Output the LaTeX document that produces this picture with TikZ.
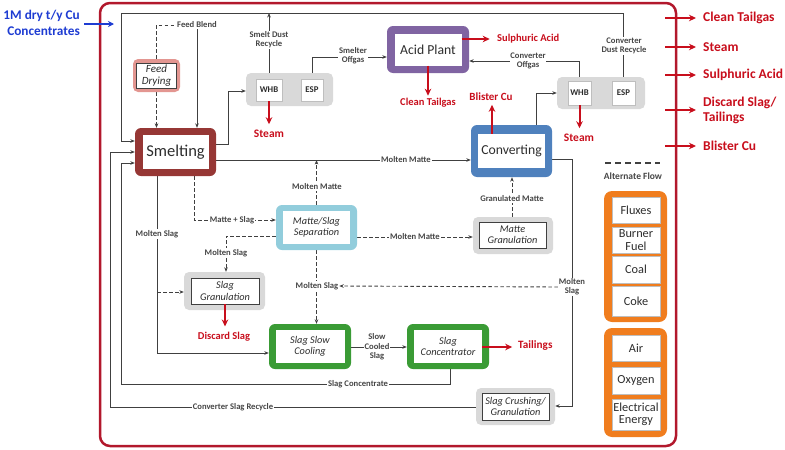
\documentclass[tikz,border=0pt]{standalone}
\usepackage{fontspec}
\setmainfont{Carlito}
\usetikzlibrary{arrows.meta,calc}
\pgfdeclarelayer{bg}
\pgfsetlayers{bg,main}
\definecolor{cFrame}{RGB}{178,24,44}
\definecolor{cRed}{RGB}{200,14,28}
\definecolor{cBlue}{RGB}{30,60,210}
\definecolor{cBrown}{RGB}{150,55,53}
\definecolor{cPurple}{RGB}{128,100,162}
\definecolor{cCBlue}{RGB}{79,129,189}
\definecolor{cLBlue}{RGB}{146,205,220}
\definecolor{cGreen}{RGB}{58,155,53}
\definecolor{cPink}{RGB}{227,150,145}
\definecolor{cOrange}{RGB}{240,125,30}
\definecolor{cGray}{RGB}{217,217,217}
\definecolor{cLine}{RGB}{64,64,64}
\definecolor{cText}{RGB}{45,45,45}
\definecolor{cLbl}{RGB}{70,70,70}
\definecolor{cBord}{RGB}{190,190,190}
\tikzset{
 fr/.style={rounded corners=6pt, inner sep=0pt, draw=none},
 inb/.style={fill=white, inner sep=0pt, align=center, text=cText},
 ttl/.style={font=\fontsize{13.7}{15}\selectfont},
 ital/.style={font=\fontsize{10.3}{11.3}\selectfont\itshape},
 gbox/.style={fill=cGray, rounded corners=5pt, inner sep=0pt},
 ibox/.style={fill=white, draw=cLine, line width=0.9pt, inner sep=0pt, align=center, text=cText},
 sq/.style={fill=white, draw=cBord, line width=0.5pt, inner sep=0pt, font=\fontsize{8.8}{9}\selectfont\bfseries, text=cText},
 lbl/.style={fill=white, inner sep=0.8pt, align=center, text=cLbl, font=\fontsize{8.6}{9.3}\selectfont\bfseries},
 conn/.style={draw=cLine, line width=0.75pt, -{Stealth[length=4.5pt,width=3.6pt]}},
 dconn/.style={conn, dash pattern=on 3.5pt off 2.5pt, line width=0.9pt},
 rarr/.style={draw=cRed, line width=2pt, -{Stealth[length=7pt,width=6.5pt]}},
 rlbl/.style={text=cRed, font=\fontsize{10.5}{12}\selectfont\bfseries, inner sep=0pt},
 olbl/.style={text=cRed, font=\fontsize{13.5}{15}\selectfont\bfseries, inner sep=0pt, anchor=west, align=left},
 leg/.style={fill=white, draw=cBord, line width=0.5pt, minimum width=48, inner sep=0pt, align=center, font=\fontsize{12.3}{12.5}\selectfont, text=cText},
}
\begin{document}
\begin{tikzpicture}[x=1pt,y=-1pt]
\useasboundingbox (0,0) rectangle (785,450);
\draw[cFrame, line width=2.5pt, rounded corners=10pt] (100,3) rectangle (676,446);

% input
\node[anchor=east, align=right, inner sep=0pt, text=cBlue, font=\fontsize{13.3}{16}\selectfont\bfseries] (inp) at (80,23) {1M dry t/y Cu\\Concentrates};
\coordinate (inend) at (114,24);
\draw[draw=cBlue, line width=1.6pt, -{Stealth[length=6pt,width=6pt]}] ($(inp.east)+(4,1)$) -- (inend);

% main process boxes
\node[fr, fill=cBrown, minimum width=81, minimum height=48] (sm) at (175.5,152) {};
\node[inb, minimum width=66, minimum height=34, font=\fontsize{16.5}{18}\selectfont] (sm-i) at (sm) {Smelting};
\node[fr, fill=cPurple, minimum width=82, minimum height=47] (ap) at (428,49.5) {};
\node[inb, ttl, minimum width=67, minimum height=32] (ap-i) at (ap) {Acid Plant};
\node[fr, fill=cCBlue, minimum width=81, minimum height=52] (cv) at (511.5,151) {};
\node[inb, ttl, minimum width=67, minimum height=34] (cv-i) at (cv) {Converting};
\node[fr, fill=cLBlue, minimum width=81, minimum height=45] (ms) at (316.5,227.5) {};
\node[inb, ital, minimum width=67, minimum height=33] (ms-i) at (ms) {Matte/Slag\\Separation};
\node[fr, fill=cGreen, minimum width=82, minimum height=45] (ssc) at (310,346.5) {};
\node[inb, ital, minimum width=69, minimum height=33] (ssc-i) at (ssc) {Slag Slow\\Cooling};
\node[fr, fill=cGreen, minimum width=82, minimum height=45] (scc) at (448,346.5) {};
\node[inb, ital, minimum width=68, minimum height=33] (scc-i) at (scc) {Slag\\Concentrator};
\node[fr, rounded corners=5pt, fill=cPink, minimum width=47, minimum height=33] (fd) at (156.5,75.5) {};
\node[ibox, font=\fontsize{11}{12}\selectfont\itshape, minimum width=40, minimum height=25] (fd-i) at (fd) {Feed\\Drying};

% gas cleaning
\node[gbox, minimum width=87, minimum height=33] (g1) at (289.5,89.5) {};
\node[sq, minimum width=26, minimum height=22] (whb1) at (269,90) {WHB};
\node[sq, minimum width=22, minimum height=22] (esp1) at (312,90) {ESP};
\node[gbox, minimum width=88, minimum height=32] (g2) at (601,93) {};
\node[sq, minimum width=23, minimum height=24] (whb2) at (579.5,93) {WHB};
\node[sq, minimum width=23, minimum height=24] (esp2) at (623.5,93) {ESP};

% grey process boxes
\node[gbox, minimum width=81, minimum height=38] (sg) at (224.5,291) {};
\node[ibox, ital, minimum width=68, minimum height=26] (sg-i) at (225,291) {Slag\\Granulation};
\node[gbox, minimum width=80, minimum height=37] (mg) at (513,235.5) {};
\node[ibox, ital, minimum width=67, minimum height=26] (mg-i) at (512.5,235) {Matte\\Granulation};
\node[gbox, minimum width=79, minimum height=37] (sc) at (515.5,406.5) {};
\node[ibox, ital, minimum width=67, minimum height=27] (sc-i) at (515.5,406.5) {Slag Crushing/\\Granulation};

% legend / inputs
\node[fr, rounded corners=8pt, fill=cOrange, minimum width=63, minimum height=131] (og1) at (635.5,256.5) {};
\node[leg, minimum height=26] (fl) at (636,210) {Fluxes};
\node[leg, minimum height=26] (bf) at (636,240) {Burner\\Fuel};
\node[leg, minimum height=27] (co) at (636,269.5) {Coal};
\node[leg, minimum height=30] (ck) at (636,301) {Coke};
\node[fr, rounded corners=8pt, fill=cOrange, minimum width=63, minimum height=109] (og2) at (635.5,382.5) {};
\node[leg, minimum height=26] (ai) at (636,348) {Air};
\node[leg, minimum height=27] (ox) at (636,380.5) {Oxygen};
\node[leg, minimum height=31] (ee) at (636,414.5) {Electrical\\Energy};
\coordinate (lg1) at (605,163);
\coordinate (lg2) at (660,163);
\draw[cLine, line width=1.6pt, dash pattern=on 6pt off 4pt] (lg1) -- (lg2);
\node[text=cLbl, font=\fontsize{9.5}{10}\selectfont\bfseries, inner sep=0pt] (altf) at (633,176) {Alternate Flow};

% labels
\node[lbl] (fb) at (197,25) {Feed Blend};
\node[lbl] (l-sdr) at (269,40) {Smelt Dust\\Recycle};
\node[lbl] (l-so) at (353,56) {Smelter\\Offgas};
\node[lbl] (l-co) at (528,61) {Converter\\Offgas};
\node[lbl] (l-cdr) at (624,46) {Converter\\Dust Recycle};
\node[lbl] (l-mm1) at (406,160) {Molten Matte};
\node[lbl] (l-mm2) at (317,187) {Molten Matte};
\node[lbl] (l-ms) at (232,220) {Matte + Slag};
\node[lbl] (l-msl1) at (226,253) {Molten Slag};
\node[lbl] (l-mm3) at (415,237) {Molten Matte};
\node[lbl] (l-gm) at (512,199) {Granulated Matte};
\node[lbl] (lms2) at (572,287) {Molten\\Slag};
\node[lbl] (lms3) at (317,286) {Molten Slag};
\node[lbl] (l-msl0) at (157,234) {Molten Slag};
\node[lbl] (l-scs) at (377,347) {Slow\\Cooled\\Slag};
\node[lbl] (l-sconc) at (358,384) {Slag Concentrate};
\node[lbl] (l-csr) at (233,407) {Converter Slag Recycle};

% connectors
\begin{pgfonlayer}{bg}
\draw[conn] (esp2.north |- g2.north) -- (esp2.north |- 0,13) -- (121,13) -- (121,141) -- (sm.west |- 0,141);
\draw[conn] (whb1.north |- g1.north) -- (whb1.north |- 0,13);
\draw[dconn,-] (fd.north) |- (fb.west);
\draw[conn] (fb.south) -- (fb.south |- sm.north);
\draw[dconn] (fd.south) -- (fd.south |- sm.north);
\draw[conn] (sm.east |- 0,144) -| (228,91) -- (g1.west |- 0,91);
\draw[conn] (esp1.north |- g1.north) |- (ap.west |- 0,57);
\draw[conn] (whb2.north |- g2.north) |- (ap.east |- 0,61);
\draw[conn] (cv.north -| 536,0) |- (g2.west |- 0,93);
\draw[conn] (sm.east |- 0,160) -- (cv.west |- 0,160);
\draw[dconn] (ms.north) -- (ms.north |- 0,160);
\draw[dconn] (sm.south -| 194,0) |- (ms.west |- 0,220);
\draw[dconn] (ms.west |- 0,236) -| (sg.north -| 226,0);
\draw[dconn] (ms.east |- 0,237) -- (mg.west |- 0,237);
\draw[dconn] (mg.north -| 512,0) -- (cv.south -| 512,0);
\draw[conn] (cv.east |- 0,159) -| (572,406) -- (sc.east |- 0,406);
\draw[dconn] (lms2.west) -- (lms3.east);
\draw[dconn] (ms.south) -- (ms.south |- ssc.north);
\draw[conn] (sm.south -| 157,0) |- (ssc.west |- 0,353);
\coordinate (br1) at (157,292);
\draw[dconn] (br1) -- (sg.west |- br1);
\draw[conn] (ssc.east |- 0,347) -- (scc.west |- 0,347);
\draw[conn] (scc.south -| 450,0) |- (121,384) |- (sm.west |- 0,163);
\draw[conn] (sc.west |- 0,407) -| (110,152) -- (sm.west |- 0,152);
\end{pgfonlayer}

% red product arrows
\draw[rarr] (whb1.south) -- ++(0,23);
\node[rlbl, font=\fontsize{11.5}{12}\selectfont\bfseries] (st1) at (269,134) {Steam};
\draw[rarr] (whb2.south) -- ++(0,23);
\node[rlbl, font=\fontsize{11.5}{12}\selectfont\bfseries] (st2) at (579,137.5) {Steam};
\draw[rarr] (ap-i.south) -- ++(0,30);
\node[rlbl] (ct) at (428,103) {Clean Tailgas};
\draw[rarr] (ap-i.east |- 0,39) -- ++(28,0);
\node[rlbl, anchor=west] (sa) at (497,39) {Sulphuric Acid};
\draw[rarr] (cv-i.north -| 492,0) -- ++(0,-29);
\node[rlbl, font=\fontsize{11}{12}\selectfont\bfseries] (bc) at (491,97) {Blister Cu};
\draw[rarr] (sg-i.south) -- ++(0,22);
\node[rlbl] (ds) at (224,337) {Discard Slag};
\draw[rarr] (scc-i.east |- 0,347) -- ++(30,0);
\node[rlbl, anchor=west, font=\fontsize{11.2}{12}\selectfont\bfseries] (tl) at (518,346) {Tailings};

% outputs
\node[olbl] (ol1) at (703,18) {Clean Tailgas};
\node[olbl] (ol2) at (703,47) {Steam};
\node[olbl] (ol3) at (703,75) {Sulphuric Acid};
\node[olbl] (ol4) at (703,110) {Discard Slag/\\Tailings};
\node[olbl] (ol5) at (703,146) {Blister Cu};
\coordinate (o1) at (665,18);
\coordinate (o2) at (665,47);
\coordinate (o3) at (665,75);
\coordinate (o4) at (665,110);
\coordinate (o5) at (665,146);
\draw[rarr, shorten >=7pt] (o1) -- (ol1.west);
\draw[rarr, shorten >=7pt] (o2) -- (ol2.west);
\draw[rarr, shorten >=7pt] (o3) -- (ol3.west);
\draw[rarr, shorten >=7pt] (o4) -- (ol4.west);
\draw[rarr, shorten >=7pt] (o5) -- (ol5.west);
\end{tikzpicture}
\end{document}
